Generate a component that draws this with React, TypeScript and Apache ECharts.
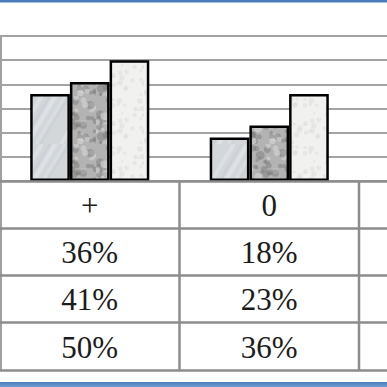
import React, { useEffect, useRef } from "react";
import * as echarts from "echarts";

// ---- data ----
const categories = ["+", "0", "−"];
const seriesNames = ["A", "B", "C"];
const valuesA: (number | null)[] = [36, 18, null];
const valuesB: (number | null)[] = [41, 23, null];
const valuesC: (number | null)[] = [50, 36, null];
const yTicks = { min: 0, max: 60, interval: 10 };

// ---- layout ----
const W = 387;
const H = 387;
const BAND = 179.5;
const CW = Math.ceil(BAND * 3);
const GRID_TOP = 36;
const GRID_BOTTOM_Y = 181;
const ROW_LINES = [181.5, 228.5, 275.5, 322.5, 370.5];
const FONT = "'Liberation Serif', 'DejaVu Serif', serif";

function hash(n: number) {
  const s = Math.sin(n * 12.9898 + 78.233) * 43758.5453;
  return s - Math.floor(s);
}

function makePattern(kind: number) {
  const size = 48;
  const c = document.createElement("canvas");
  c.width = size;
  c.height = size;
  const g = c.getContext("2d")!;
  if (kind === 0) {
    g.fillStyle = "#d3d7da";
    g.fillRect(0, 0, size, size);
    g.lineWidth = 4;
    for (let i = 0; i < 8; i++) {
      g.strokeStyle = i % 2 ? "rgba(232,235,237,0.45)" : "rgba(196,201,205,0.35)";
      const o = hash(i + 1) * size;
      for (const d of [-size, 0, size]) {
        g.beginPath();
        g.moveTo(o + d, size);
        g.lineTo(o + d + size * 0.6, 0);
        g.stroke();
      }
    }
  } else if (kind === 1) {
    g.fillStyle = "#b3b3b3";
    g.fillRect(0, 0, size, size);
    for (let i = 0; i < 60; i++) {
      const x = hash(i * 3 + 1) * size;
      const y = hash(i * 3 + 2) * size;
      const r = 1.5 + hash(i * 3 + 3) * 3;
      g.fillStyle = i % 3 === 0 ? "rgba(210,210,210,0.7)" : "rgba(120,120,120,0.45)";
      g.beginPath();
      g.arc(x, y, r, 0, Math.PI * 2);
      g.fill();
    }
  } else {
    g.fillStyle = "#f1f1ef";
    g.fillRect(0, 0, size, size);
    for (let i = 0; i < 40; i++) {
      const x = hash(i * 5 + 7) * size;
      const y = hash(i * 5 + 9) * size;
      const r = 1 + hash(i * 5 + 11) * 2;
      g.fillStyle = "rgba(220,220,217,0.5)";
      g.beginPath();
      g.arc(x, y, r, 0, Math.PI * 2);
      g.fill();
    }
  }
  return { image: c, repeat: "repeat", imageWidth: size, imageHeight: size } as any;
}

export default function App() {
  const ref = useRef<HTMLDivElement>(null);

  useEffect(() => {
    if (!ref.current) return;
    const chart = echarts.init(ref.current, undefined, { renderer: "svg", width: CW, height: H });
    const allSeries = [valuesA, valuesB, valuesC];

    chart.setOption({
      animation: false,
      backgroundColor: "#ffffff",
      grid: { left: 0, top: GRID_TOP, width: BAND * categories.length, height: GRID_BOTTOM_Y - GRID_TOP },
      xAxis: {
        type: "category",
        data: categories,
        axisLine: { show: false },
        axisTick: { show: false },
        axisLabel: { show: false },
        splitLine: { show: false },
      },
      yAxis: {
        type: "value",
        min: yTicks.min,
        max: yTicks.max,
        interval: yTicks.interval,
        axisLine: { show: false },
        axisTick: { show: false },
        axisLabel: { show: false },
        splitLine: { lineStyle: { color: "#a3a3a3", width: 2 } },
      },
      series: allSeries.map((vals, i) => ({
        name: seriesNames[i],
        type: "bar",
        data: vals,
        barWidth: 39.7,
        barGap: "0%",
        itemStyle: { color: makePattern(i), borderColor: "#000000", borderWidth: 2.5 },
        z: 3,
      })),
    });

    const centers = categories.map((_, i) => chart.convertToPixel({ xAxisIndex: 0 }, i) as number);
    const bounds = [centers[0] - BAND / 2, ...centers.map((c) => c + BAND / 2)];
    const graphic: any[] = [];

    graphic.push({ type: "rect", shape: { x: 0, y: 0, width: CW, height: 2.5 }, style: { fill: "#4a7ebb" }, z: 10 });
    graphic.push({
      type: "rect",
      shape: { x: 0, y: 382, width: CW, height: 5 },
      style: {
        fill: new echarts.graphic.LinearGradient(0, 0, 0, 1, [
          { offset: 0, color: "#4a7ebb" },
          { offset: 1, color: "#6f9bd2" },
        ]),
      },
      z: 10,
    });
    graphic.push({
      type: "line",
      shape: { x1: 1, y1: GRID_TOP, x2: 1, y2: ROW_LINES[ROW_LINES.length - 1] },
      style: { stroke: "#a0a0a0", lineWidth: 2 },
      z: 5,
    });
    ROW_LINES.forEach((y) =>
      graphic.push({
        type: "line",
        shape: { x1: 0, y1: y, x2: CW, y2: y },
        style: { stroke: "#8c8c8c", lineWidth: 2.5 },
        z: 5,
      })
    );
    bounds.forEach((x, i) => {
      if (i === 0) return;
      graphic.push({
        type: "line",
        shape: { x1: x, y1: ROW_LINES[0], x2: x, y2: ROW_LINES[ROW_LINES.length - 1] },
        style: { stroke: "#8c8c8c", lineWidth: 2.5 },
        z: 5,
      });
    });
    const rows: string[][] = [
      categories,
      ...allSeries.map((vals) => vals.map((v) => (v == null ? "" : v + "%"))),
    ];
    rows.forEach((row, r) => {
      const cy = (ROW_LINES[r] + ROW_LINES[r + 1]) / 2 + 0.5;
      row.forEach((txt, ci) => {
        // columns whose cell lies beyond the visible page are cropped away in the reference
        if (centers[ci] > W || !txt) return;
        graphic.push({
          type: "text",
          x: centers[ci],
          y: cy,
          style: {
            text: txt,
            fill: "#1c1c1c",
            font: `31px ${FONT}`,
            align: "center",
            verticalAlign: "middle",
          },
          z: 6,
        });
      });
    });

    chart.setOption({ graphic });

    return () => chart.dispose();
  }, []);

  return (
    <div style={{ position: "fixed", left: 0, top: 0, width: W, height: H, overflow: "hidden", background: "#fff" }}>
      <div ref={ref} style={{ width: CW, height: H }} />
    </div>
  );
}
